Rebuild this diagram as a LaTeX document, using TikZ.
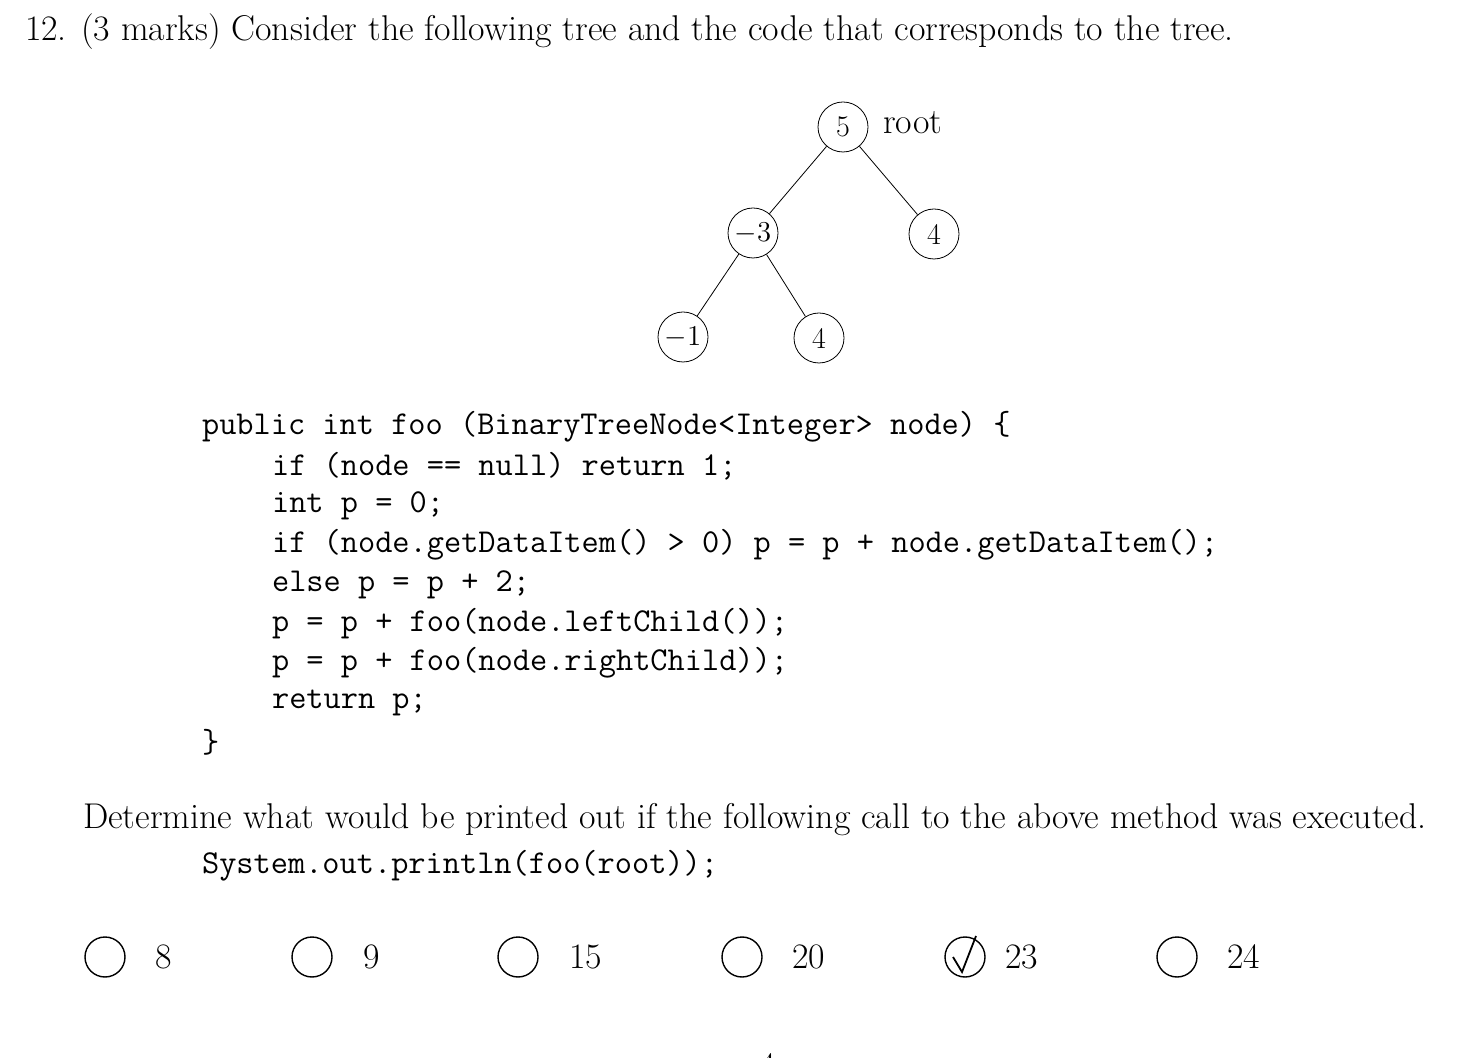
\documentclass[tikz,border=0pt]{standalone}
\begin{document}
\begin{tikzpicture}[x=0.5pt,y=-0.5pt,
  tn/.style={draw,circle,minimum size=25pt,inner sep=0pt,font=\fontsize{15}{18}\selectfont},
  opt/.style={draw,circle,minimum size=20pt,inner sep=0pt,line width=0.7pt},
  lbl/.style={anchor=west,font=\fontsize{17.9}{21}\selectfont},
  code/.style={anchor=west,font=\fontsize{16.7}{19}\selectfont\ttfamily}]
\useasboundingbox (0,0) rectangle (1462,1058);
\node[lbl] (q) at (18,32) {12. (3 marks) Consider the following tree and the code that corresponds to the tree.};
\node[tn] (n5) at (843,127) {5};
\node[tn] (nm3) at (753,233) {$-3$};
\node[tn] (n4a) at (934,234) {4};
\node[tn] (nm1) at (683,337) {$-1$};
\node[tn] (n4b) at (819,338) {4};
\node[lbl] (root) at (876,123) {root};
\draw (n5)--(nm3) (n5)--(n4a) (nm3)--(nm1) (nm3)--(n4b);
\node[code] (c1) at (195,427) {public int foo (BinaryTreeNode<Integer> node) \{};
\node[code] (c2) at (265,466) {if (node == null) return 1;};
\node[code] (c3) at (265,506) {int p = 0;};
\node[code] (c4) at (265,545) {if (node.getDataItem() > 0) p = p + node.getDataItem();};
\node[code] (c5) at (265,585) {else p = p + 2;};
\node[code] (c6) at (265,624) {p = p + foo(node.leftChild());};
\node[code] (c7) at (265,663) {p = p + foo(node.rightChild));};
\node[code] (c8) at (265,703) {return p;};
\node[code] (c9) at (195,742) {\}};
\node[lbl] (d) at (76,820) {Determine what would be printed out if the following call to the above method was executed.};
\node[code] (s) at (195,866) {System.out.println(foo(root));};
\foreach \cx/\lx/\t [count=\i] in {105/148/8,312/356/9,518/562/15,742/785/20,965/998/23,1177/1220/24}{
  \node[opt] (o\i) at (\cx,957) {};
  \node[lbl] (l\i) at (\lx,957) {\t};
}
\draw[line width=0.9pt] (953,957) -- (962,972) -- (976,936);
\node[font=\fontsize{17.9}{21}\selectfont] (pg) at (768,1066) {4};
\end{tikzpicture}
\end{document}
